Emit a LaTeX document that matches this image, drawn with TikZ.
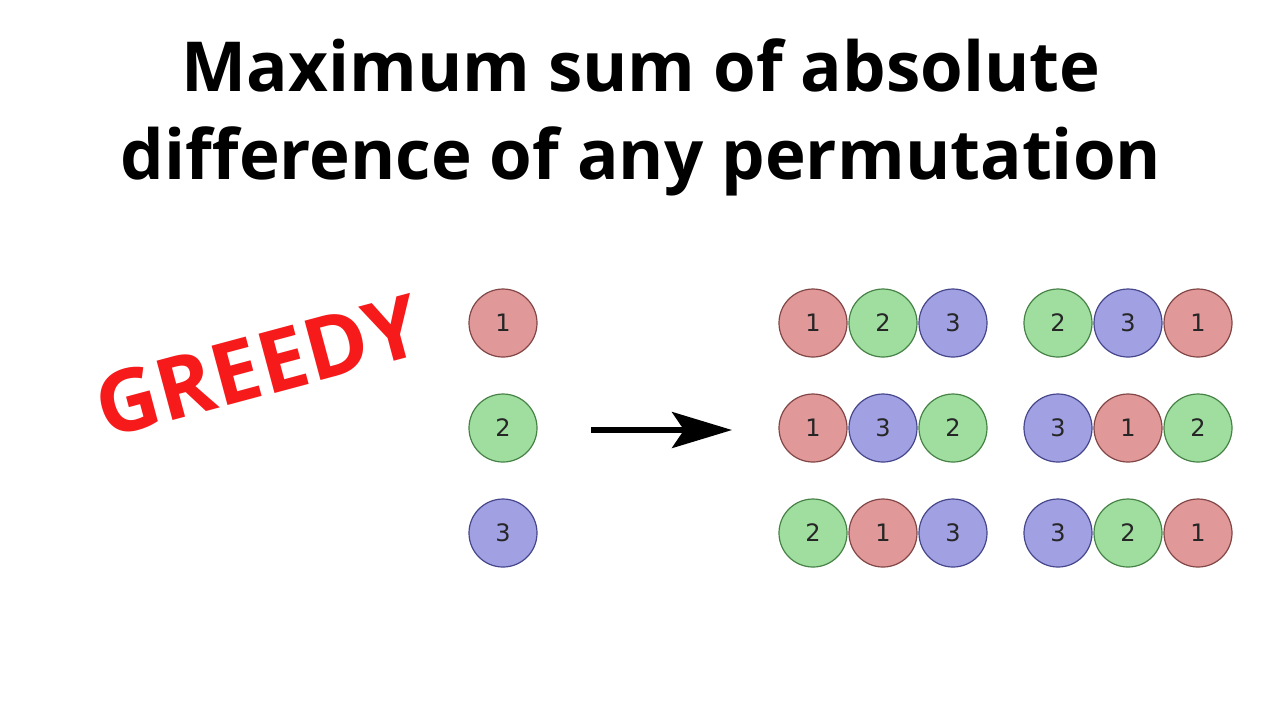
\documentclass[tikz,border=0pt]{standalone}
\usepackage{fontspec}
\setmainfont{Open Sans}
\newfontfamily\numfont{DejaVu Sans}
\usetikzlibrary{arrows.meta}
\definecolor{redfill}{RGB}{224,152,152}
\definecolor{reddraw}{RGB}{130,70,70}
\definecolor{greenfill}{RGB}{160,222,160}
\definecolor{greendraw}{RGB}{70,130,70}
\definecolor{bluefill}{RGB}{160,160,226}
\definecolor{bluedraw}{RGB}{70,70,140}
\definecolor{greedyred}{RGB}{246,26,26}
\tikzset{
  ball/.style={circle, minimum size=34pt, inner sep=0pt, line width=0.6pt, font=\numfont\fontsize{12}{12}\selectfont, text=black!85},
  rball/.style={ball, fill=redfill, draw=reddraw},
  gball/.style={ball, fill=greenfill, draw=greendraw},
  bball/.style={ball, fill=bluefill, draw=bluedraw},
  titletext/.style={font=\bfseries\fontsize{34.5}{44}\selectfont, align=center},
}
\begin{document}
\begin{tikzpicture}[x=0.5pt,y=-0.5pt]
\useasboundingbox (0,0) rectangle (1280,720);
\fill[white] (0,0) rectangle (1280,720);
\node[titletext] (title) at (641,117) {Maximum sum of absolute\\difference of any permutation};
\node[rotate=15, text=greedyred, font=\bfseries\fontsize{43}{43}\selectfont] (greedy) at (258,366) {GREEDY};
% left column
\node[rball] (l1) at (503,323) {1};
\node[gball] (l2) at (503,428) {2};
\node[bball] (l3) at (503,533) {3};
% arrow
\coordinate (as) at (591,430);
\coordinate (ae) at (732,430);
\draw[line width=2.6pt, -{Stealth[length=30pt,width=18pt,inset=6pt]}] (as) -- (ae);
% permutations
\node[rball] (a1) at (813,323) {1};
\node[gball] (a2) at (883,323) {2};
\node[bball] (a3) at (953,323) {3};
\node[gball] (b1) at (1058,323) {2};
\node[bball] (b2) at (1128,323) {3};
\node[rball] (b3) at (1198,323) {1};
\node[rball] (c1) at (813,428) {1};
\node[bball] (c2) at (883,428) {3};
\node[gball] (c3) at (953,428) {2};
\node[bball] (d1) at (1058,428) {3};
\node[rball] (d2) at (1128,428) {1};
\node[gball] (d3) at (1198,428) {2};
\node[gball] (e1) at (813,533) {2};
\node[rball] (e2) at (883,533) {1};
\node[bball] (e3) at (953,533) {3};
\node[bball] (f1) at (1058,533) {3};
\node[gball] (f2) at (1128,533) {2};
\node[rball] (f3) at (1198,533) {1};
\end{tikzpicture}
\end{document}
